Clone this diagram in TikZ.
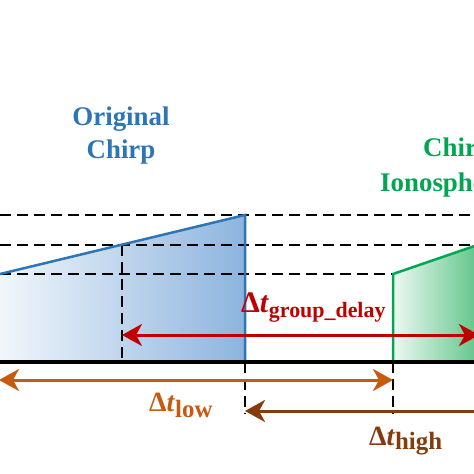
\documentclass[tikz,border=0pt]{standalone}
\usepackage{fontspec}
\setmainfont{Liberation Serif}
\usepackage{tikz}
\usetikzlibrary{arrows.meta}
\definecolor{ChirpBlue}{RGB}{46,117,182}
\definecolor{ChirpBlueFill}{RGB}{140,180,222}
\definecolor{IonoGreen}{RGB}{0,166,81}
\definecolor{IonoGreenFill}{RGB}{100,198,140}
\definecolor{DelayRed}{RGB}{192,0,0}
\definecolor{LowOrange}{RGB}{197,90,17}
\definecolor{HighBrown}{RGB}{132,60,12}

\tikzset{
  bigtip/.tip={Stealth[length=20bp,width=22bp,inset=6bp]},
  guide/.style={black, line width=1.5bp, dash pattern=on 11bp off 6bp},
  gaparrow/.style={line width=3bp},
  chirpline/.style={line width=2.5bp},
  title/.style={font=\fontsize{27}{34}\selectfont\bfseries, inner sep=0pt},
  dtlabel/.style={inner sep=0pt, anchor=base west, font=\bfseries}
}

\begin{document}
\begin{tikzpicture}[x=1bp,y=-1bp]
  \useasboundingbox (0,0) rectangle (474,474);
  \clip (0,0) rectangle (474,474);

  % key points of the two chirps
  \coordinate (b0) at (0,274);
  \coordinate (bmid) at (122,245);
  \coordinate (btop) at (245,215);
  \coordinate (bbase) at (245,362);
  \coordinate (g0) at (393,274);
  \coordinate (gbase) at (393,362);
  \coordinate (gend) at (476,245.5);
  \coordinate (axl) at (0,362);
  \coordinate (axr) at (474,362);

  % shaded chirps
  \fill[left color=ChirpBlueFill!12, right color=ChirpBlueFill] (axl) -- (b0) -- (btop) -- (bbase) -- cycle;
  \fill[left color=IonoGreenFill!12, right color=IonoGreenFill] (gbase) -- (g0) -- (gend) -- (476,362) -- cycle;

  % dashed guides
  \draw[guide] (0,215) -- (474,215);
  \draw[guide] (0,245) -- (474,245);
  \draw[guide] (b0) -- (g0);
  \draw[guide] (bmid) -- (122,362);
  \coordinate (bdrop) at (245,414);
  \coordinate (gdrop) at (393,414);
  \draw[guide] (bbase) -- (bdrop);
  \draw[guide] (gbase) -- (gdrop);

  % chirp outlines
  \draw[chirpline, ChirpBlue] (b0) -- (btop) -- (bbase);
  \draw[chirpline, IonoGreen] (gbase) -- (g0) -- (gend);

  % time axis
  \draw[line width=4bp] (axl) -- (axr);

  % delays
  \coordinate (rl) at (122,335);
  \coordinate (rr) at (479,335);
  \draw[gaparrow, DelayRed, bigtip-bigtip] (rl) -- (rr);
  \coordinate (ol) at (-1,380);
  \coordinate (or) at (393,380);
  \draw[gaparrow, LowOrange, bigtip-bigtip] (ol) -- (or);
  \coordinate (hl) at (245,411);
  \coordinate (hr) at (520,411);
  \draw[gaparrow, HighBrown, bigtip-] (hl) -- (hr);

  % labels
  \node[dtlabel, DelayRed, font=\fontsize{30}{30}\selectfont\bfseries] (dgd) at (241,312)
    {Δ\textit{t}\raisebox{-5bp}{\fontsize{22}{22}\selectfont group\_delay}};
  \node[dtlabel, LowOrange, font=\fontsize{28}{28}\selectfont\bfseries] (dlow) at (149,411)
    {Δ\textit{t}\raisebox{-6bp}{\fontsize{25}{25}\selectfont low}};
  \node[dtlabel, HighBrown, font=\fontsize{28}{28}\selectfont\bfseries] (dhigh) at (369,445)
    {Δ\textit{t}\raisebox{-4bp}{\fontsize{25}{25}\selectfont high}};

  \node[title, ChirpBlue, align=center, anchor=base] (orig) at (121,159) {Original\\Chirp};
  \node[title, IonoGreen, anchor=base west] (after1) at (423,157) {Chirp};
  \node[title, IonoGreen, anchor=base west] (after2) at (380,192) {Ionosphere};
\end{tikzpicture}
\end{document}
